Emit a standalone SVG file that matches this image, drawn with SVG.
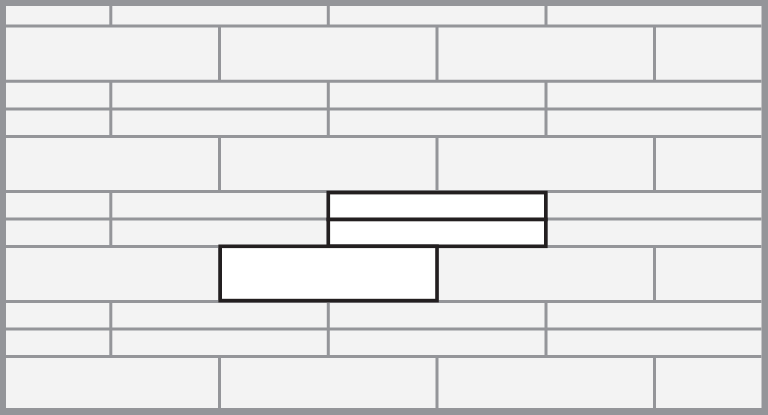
<svg xmlns="http://www.w3.org/2000/svg" width="768" height="415" viewBox="0 0 768 415">
<style>
.g{stroke:#949599;stroke-width:3;fill:none}
.t{fill:#ffffff;stroke:#231f20;stroke-width:3.6}
</style>
<rect x="0" y="0" width="768" height="415" fill="#949599"/>
<rect x="6" y="6" width="755.5" height="402" fill="#f3f3f3"/>
<g id="grid" class="g">
<path d="M6 26H761.5M6 81.3H761.5M6 109H761.5M6 136.5H761.5M6 191.5H761.5M6 219H761.5M6 246.5H761.5M6 301.5H761.5M6 329H761.5M6 356.5H761.5"/>
<path d="M110.8 6V26M328.3 6V26M546 6V26M110.8 81.3V136.5M328.3 81.3V136.5M546 81.3V136.5M110.8 191.5V246.5M328.3 191.5V246.5M546 191.5V246.5M110.8 301.5V356.5M328.3 301.5V356.5M546 301.5V356.5"/>
<path d="M219.5 26V81.3M437 26V81.3M654.5 26V81.3M219.5 136.5V191.5M437 136.5V191.5M654.5 136.5V191.5M219.5 246.5V301.5M437 246.5V301.5M654.5 246.5V301.5M219.5 356.5V408M437 356.5V408M654.5 356.5V408"/>
</g>
<g id="tile-a"><rect class="t" x="328.3" y="192.6" width="217.5" height="26.9"/></g>
<g id="tile-b"><rect class="t" x="328.3" y="219.5" width="217.5" height="26.8"/></g>
<g id="tile-c"><rect class="t" x="220.2" y="246.3" width="216.8" height="54.3"/></g>
</svg>
